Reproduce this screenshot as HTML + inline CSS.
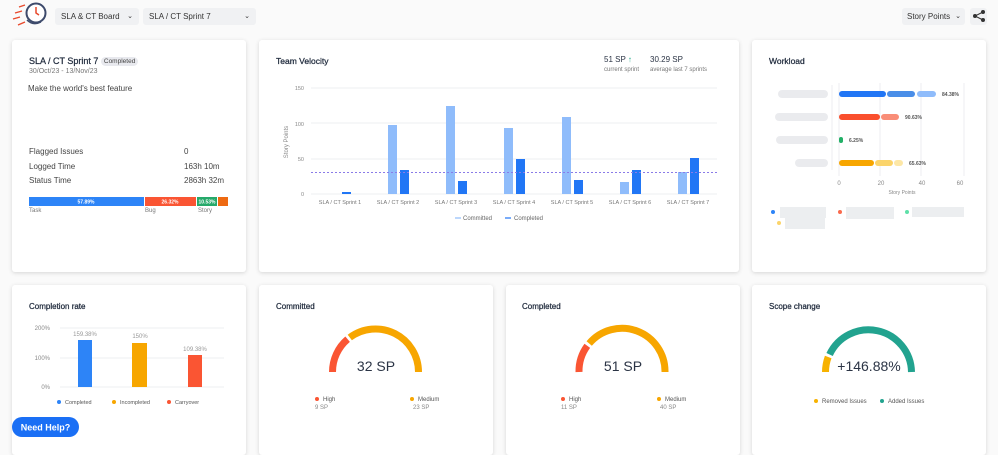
<!DOCTYPE html>
<html><head><meta charset="utf-8"><style>
*{margin:0;padding:0;box-sizing:border-box}
body{width:998px;height:448px;overflow:hidden;background:#fafafa;font-family:"Liberation Sans",sans-serif;color:#2b3445;position:relative}
.card{position:absolute;background:#fff;border-radius:3px;box-shadow:0 1px 4px rgba(0,0,0,.15)}
.t{position:absolute;white-space:nowrap}
.sel{position:absolute;background:#f0f1f3;border-radius:3px;font-size:8px;color:#333;padding:5px 6px;height:17px;line-height:7px}
.h{font-size:8.5px;color:#1f2a3c;-webkit-text-stroke:0.25px #1f2a3c}
svg{position:absolute;left:0;top:0}
</style></head><body>
<div class="sel" style="left:55px;top:8px;width:84px">SLA &amp; CT Board<span style="position:absolute;right:6px;font-size:7px">⌄</span></div>
<div class="sel" style="left:143px;top:8px;width:113px">SLA / CT Sprint 7<span style="position:absolute;right:6px;font-size:7px">⌄</span></div>
<div class="sel" style="left:902px;top:8px;width:63px;padding-left:5px">Story Points<span style="position:absolute;right:4px;font-size:7px">⌄</span></div>
<div class="sel" style="left:970px;top:8px;width:17px"></div>

<div class="card" style="left:12px;top:40px;width:234px;height:232px"></div>
<div class="card" style="left:259px;top:40px;width:480px;height:232px"></div>
<div class="card" style="left:752px;top:40px;width:234px;height:232px"></div>
<div class="card" style="left:12px;top:285px;width:234px;height:170px"></div>
<div class="card" style="left:259px;top:285px;width:234px;height:170px"></div>
<div class="card" style="left:506px;top:285px;width:234px;height:170px"></div>
<div class="card" style="left:752px;top:285px;width:234px;height:170px"></div>

<div class="t h" style="left:29px;top:56px;font-size:9px">SLA / CT Sprint 7 <span style="font-size:6.5px;background:#e8e9ee;border-radius:5px;padding:1px 3px;-webkit-text-stroke:0;color:#444;vertical-align:1px">Completed</span></div>
<div class="t" style="left:29px;top:68px;font-size:7px;color:#777">30/Oct/23 - 13/Nov/23</div>
<div class="t" style="left:28px;top:84px;font-size:8px;color:#444">Make the world's best feature</div>
<div class="t" style="left:29px;top:147px;font-size:8px;color:#444">Flagged Issues</div>
<div class="t" style="left:184px;top:147px;font-size:8px;color:#444">0</div>
<div class="t" style="left:29px;top:162px;font-size:8px;color:#444">Logged Time</div>
<div class="t" style="left:184px;top:162px;font-size:8px;color:#444">163h 10m</div>
<div class="t" style="left:29px;top:176px;font-size:8px;color:#444">Status Time</div>
<div class="t" style="left:184px;top:176px;font-size:8px;color:#444">2863h 32m</div>
<div class="t" style="left:29px;top:208px;font-size:6px;color:#777">Task</div>
<div class="t" style="left:145px;top:208px;font-size:6px;color:#777">Bug</div>
<div class="t" style="left:198px;top:208px;font-size:6px;color:#777">Story</div>

<div class="t h" style="left:276px;top:56px">Team Velocity</div>
<div class="t" style="left:604px;top:55px;font-size:8px">51 SP <span style="color:#2a8">↑</span></div>
<div class="t" style="left:604px;top:67px;font-size:6px;color:#777">current sprint</div>
<div class="t" style="left:650px;top:55px;font-size:8px">30.29 SP</div>
<div class="t" style="left:650px;top:67px;font-size:6px;color:#777">average last 7 sprints</div>
<div class="t h" style="left:769px;top:56px">Workload</div>

<div class="t h" style="left:29px;top:302px;font-size:8px">Completion rate</div>
<div class="t h" style="left:276px;top:302px;font-size:8px">Committed</div>
<div class="t h" style="left:522px;top:302px;font-size:8px">Completed</div>
<div class="t h" style="left:769px;top:302px;font-size:8px">Scope change</div>

<svg width="998" height="448" viewBox="0 0 998 448" font-family="Liberation Sans, sans-serif">
<!-- logo -->
<circle cx="36" cy="13" r="9.5" fill="#fff" stroke="#3d4a6b" stroke-width="2"/>
<path d="M36 7v6l3 2" stroke="#e8492c" stroke-width="1.5" fill="none"/>
<path d="M19 7l6-2M15 13l7-2M13 19l7-2M18 25l7-3" stroke="#e8492c" stroke-width="1.4"/>
<path d="M27 20q6 6 14 2" stroke="#3d4a6b" stroke-width="1.5" fill="none"/>
<!-- share -->
<g fill="#333"><circle cx="983" cy="12" r="2"/><circle cx="975" cy="16" r="2"/><circle cx="983" cy="20" r="2"/></g>
<path d="M983 12L975 16L983 20" stroke="#333" fill="none"/>

<!-- card1 bar -->
<rect x="29" y="197" width="115" height="9" fill="#2d84f7"/><text x="86" y="203.5" font-size="5" fill="#fff" text-anchor="middle" font-weight="bold">57.89%</text>
<rect x="145" y="197" width="51" height="9" fill="#fa5533"/><text x="170" y="203.5" font-size="5" fill="#fff" text-anchor="middle" font-weight="bold">26.32%</text>
<rect x="197" y="197" width="20" height="9" fill="#26a96a"/><text x="207" y="203.5" font-size="5" fill="#fff" text-anchor="middle" font-weight="bold">10.53%</text>
<rect x="218" y="197" width="10" height="9" fill="#ee6a12"/>

<!-- velocity -->
<g stroke="#e8eaee" stroke-width="0.8"><line x1="311" y1="88" x2="717" y2="88"/><line x1="311" y1="123" x2="717" y2="123"/><line x1="311" y1="159" x2="717" y2="159"/><line x1="311" y1="194" x2="717" y2="194"/></g>
<g font-size="5.5" fill="#888" text-anchor="end"><text x="304" y="90">150</text><text x="304" y="126">100</text><text x="304" y="161">50</text><text x="304" y="196">0</text></g>
<text x="288" y="142" font-size="6" fill="#888" transform="rotate(-90 288 142)" text-anchor="middle">Story Points</text>
<g fill="#8fbcfb"><rect x="388" y="125" width="9" height="69"/><rect x="446" y="106" width="9" height="88"/><rect x="504" y="128" width="9" height="66"/><rect x="562" y="117" width="9" height="77"/><rect x="620" y="182" width="9" height="12"/><rect x="678" y="172" width="9" height="22"/></g>
<g fill="#2176f5"><rect x="342" y="192" width="9" height="2"/><rect x="400" y="170" width="9" height="24"/><rect x="458" y="181" width="9" height="13"/><rect x="516" y="159" width="9" height="35"/><rect x="574" y="180" width="9" height="14"/><rect x="632" y="170" width="9" height="24"/><rect x="690" y="158" width="9" height="36"/></g>
<line x1="311" y1="172.5" x2="717" y2="172.5" stroke="#8a7be8" stroke-width="0.9" stroke-dasharray="2,2"/>
<g font-size="5.5" fill="#777" text-anchor="middle"><text x="340" y="204">SLA / CT Sprint 1</text><text x="398" y="204">SLA / CT Sprint 2</text><text x="456" y="204">SLA / CT Sprint 3</text><text x="514" y="204">SLA / CT Sprint 4</text><text x="572" y="204">SLA / CT Sprint 5</text><text x="630" y="204">SLA / CT Sprint 6</text><text x="688" y="204">SLA / CT Sprint 7</text></g>
<line x1="455" y1="218" x2="461" y2="218" stroke="#8fbcfb" stroke-width="1.2"/><text x="463" y="220" font-size="6" fill="#666">Committed</text>
<line x1="505" y1="218" x2="511" y2="218" stroke="#2176f5" stroke-width="1.2"/><text x="514" y="220" font-size="6" fill="#666">Completed</text>

<!-- workload -->
<g stroke="#e8eaee" stroke-width="0.8"><line x1="839" y1="83" x2="839" y2="176"/><line x1="880" y1="83" x2="880" y2="176"/><line x1="921" y1="83" x2="921" y2="176"/><line x1="964" y1="83" x2="964" y2="176"/><line x1="832" y1="85" x2="832" y2="170"/></g>
<g fill="#e6e7ea" opacity="0.8"><rect x="778" y="90" width="50" height="8" rx="4"/><rect x="775" y="113" width="53" height="8" rx="4"/><rect x="776" y="136" width="52" height="8" rx="4"/><rect x="795" y="159" width="33" height="8" rx="4"/></g>
<rect x="839" y="91" width="47" height="6" rx="3" fill="#2176f5"/><rect x="887" y="91" width="28" height="6" rx="3" fill="#4a8ee8"/><rect x="917" y="91" width="19" height="6" rx="3" fill="#8fbcfb"/>
<rect x="839" y="114" width="41" height="6" rx="3" fill="#fa4f2d"/><rect x="881" y="114" width="18" height="6" rx="3" fill="#f98d77"/>
<rect x="839" y="137" width="4" height="6" rx="2" fill="#22b067"/>
<rect x="839" y="160" width="35" height="6" rx="3" fill="#f7a600"/><rect x="875" y="160" width="18" height="6" rx="3" fill="#fbd46b"/><rect x="894" y="160" width="9" height="6" rx="3" fill="#fde7a6"/>
<g font-size="5" fill="#555" font-weight="bold"><text x="942" y="96">84.38%</text><text x="905" y="119">90.63%</text><text x="849" y="142">6.25%</text><text x="909" y="165">65.63%</text></g>
<g font-size="6" fill="#888" text-anchor="middle"><text x="839" y="185">0</text><text x="881" y="185">20</text><text x="922" y="185">40</text><text x="960" y="185">60</text><text x="902" y="194" font-size="5">Story Points</text></g>
<circle cx="773" cy="212" r="2" fill="#2d84f7"/><rect x="780" y="207" width="46" height="11" fill="#eceef0"/>
<circle cx="840" cy="212" r="2" fill="#fa6a4d"/><rect x="846" y="207" width="48" height="12" fill="#eceef0"/>
<circle cx="907" cy="212" r="2" fill="#5ee0a8"/><rect x="912" y="207" width="52" height="10" fill="#eceef0"/>
<circle cx="779" cy="223" r="2" fill="#fbd46b"/><rect x="785" y="218" width="40" height="11" fill="#eceef0"/>

<!-- completion rate -->
<g stroke="#e8eaee" stroke-width="0.8"><line x1="60" y1="328" x2="224" y2="328"/><line x1="60" y1="358" x2="224" y2="358"/><line x1="60" y1="387" x2="224" y2="387"/></g>
<g font-size="6" fill="#888" text-anchor="end"><text x="50" y="330">200%</text><text x="50" y="360">100%</text><text x="50" y="389">0%</text></g>
<rect x="78" y="340" width="14" height="47" fill="#2d84f7"/><rect x="132" y="343" width="15" height="44" fill="#f7a600"/><rect x="188" y="355" width="14" height="32" fill="#fa5533"/>
<g font-size="6" fill="#999" text-anchor="middle"><text x="85" y="336">159.38%</text><text x="140" y="338">150%</text><text x="195" y="351">109.38%</text></g>
<g font-size="5.5" fill="#555"><circle cx="59" cy="402" r="2" fill="#2d84f7"/><text x="65" y="404">Completed</text><circle cx="114" cy="402" r="2" fill="#f7a600"/><text x="120" y="404">Incompleted</text><circle cx="169" cy="402" r="2" fill="#fa5533"/><text x="175" y="404">Carryover</text></g>

<!-- gauges -->
<g fill="none" stroke-width="7">
<path d="M332.5 372A43 43 0 0 1 347.6 339.2" stroke="#fa5533"/><path d="M349.8 337.5A43 43 0 0 1 418.5 372" stroke="#f7a600"/>
<path d="M579 372A43 43 0 0 1 587.3 345.8" stroke="#fa5533"/><path d="M589.2 343.5A43 43 0 0 1 665 372" stroke="#f7a600"/>
<path d="M825.5 372A43 43 0 0 1 828.2 357" stroke="#f7b200"/><path d="M829.6 354.5A43 43 0 0 1 911.5 372" stroke="#22a38f"/>
</g>
<g font-size="14" fill="#2b3445" text-anchor="middle"><text x="376" y="371">32 SP</text><text x="623" y="371">51 SP</text><text x="869" y="371">+146.88%</text></g>
<g font-size="6" fill="#555">
<circle cx="317" cy="399" r="2" fill="#fa5533"/><text x="323" y="401">High</text><text x="315" y="409" fill="#888">9 SP</text>
<circle cx="412" cy="399" r="2" fill="#f7a600"/><text x="418" y="401">Medium</text><text x="413" y="409" fill="#888">23 SP</text>
<circle cx="563" cy="399" r="2" fill="#fa5533"/><text x="569" y="401">High</text><text x="561" y="409" fill="#888">11 SP</text>
<circle cx="659" cy="399" r="2" fill="#f7a600"/><text x="665" y="401">Medium</text><text x="660" y="409" fill="#888">40 SP</text>
<circle cx="816" cy="401" r="2" fill="#f7b200"/><text x="822" y="403">Removed Issues</text>
<circle cx="882" cy="401" r="2" fill="#22a38f"/><text x="888" y="403">Added Issues</text>
</g>
<rect x="12" y="417" width="67" height="20" rx="10" fill="#1a6ff5"/>
<text x="45.5" y="430.5" font-size="9" fill="#fff" font-weight="bold" text-anchor="middle">Need Help?</text>
</svg>
</body></html>
